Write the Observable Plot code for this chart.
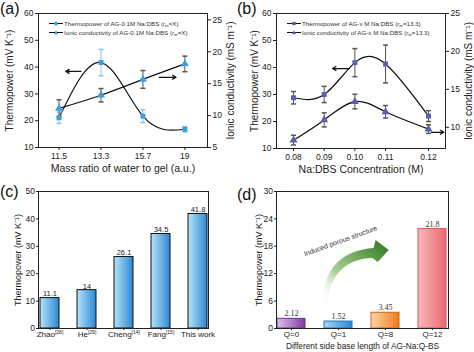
<!DOCTYPE html>
<html><head><meta charset="utf-8">
<script src="https://cdn.jsdelivr.net/npm/d3@7"></script>
<script src="https://cdn.jsdelivr.net/npm/@observablehq/plot@0.6"></script>
<style>
body{margin:0;background:#fff;}
#root{position:relative;width:474px;height:352px;overflow:hidden;font-family:"Liberation Sans",Arial,sans-serif;background:#fff}
.panel{position:absolute}
.tag{position:absolute;font-size:16px;line-height:16px;color:#111}
.leg{position:absolute;font-size:6.2px;color:#333;white-space:nowrap;line-height:9px}
.leg svg{vertical-align:middle;margin-right:1px}
.leg sub{font-size:4.3px;vertical-align:-1px}
</style></head><body>
<svg width="0" height="0" style="position:absolute">
<defs>
<linearGradient id="gradC" x1="0" y1="0" x2="1" y2="0"><stop offset="0" stop-color="#b6e4f8"/><stop offset="1" stop-color="#2b88d6"/></linearGradient>
<linearGradient id="gradD0" x1="0" y1="0" x2="1" y2="0"><stop offset="0" stop-color="#e2bfe9"/><stop offset="1" stop-color="#7a3da3"/></linearGradient>
<linearGradient id="gradD1" x1="0" y1="0" x2="1" y2="0"><stop offset="0" stop-color="#a3dcf6"/><stop offset="1" stop-color="#2a86d6"/></linearGradient>
<linearGradient id="gradD2" x1="0" y1="0" x2="1" y2="0"><stop offset="0" stop-color="#ffd6aa"/><stop offset="1" stop-color="#f07a1e"/></linearGradient>
<linearGradient id="gradD3" x1="0" y1="0" x2="1" y2="0"><stop offset="0" stop-color="#f8b8ba"/><stop offset="1" stop-color="#ee6870"/></linearGradient>
<linearGradient id="gradArrow" x1="0" y1="1" x2="1" y2="0"><stop offset="0" stop-color="#ffffff" stop-opacity="0"/><stop offset="0.35" stop-color="#a9cf93"/><stop offset="0.75" stop-color="#5a9a45"/><stop offset="1" stop-color="#2f7326"/></linearGradient>
</defs></svg>
<div id="root"></div>
<script>
// ---------- data ----------
const aCats = ["11.5", "13.3", "15.7", "19"];
const aThermo = [21.1, 41.7, 21.7, 16.8];
const aThermoErr = [2.1, 4.9, 2.4, 1.0];
const aIonic = [11.13, 13.19, 15.67, 18.10];
const aIonicErr = [1.34, 1.05, 1.39, 1.22];
const aLegend = ["Thermopower of AG-0.1M Na:DBS", "Ionic conductivity of AG-0.1M Na:DBS"];
const aLegendR = "X";

const bConc = [0.08, 0.09, 0.10, 0.11, 0.12];
const bThermo = [28.8, 30.0, 41.8, 41.3, 22.0];
const bThermoErr = [2.3, 3.0, 5.2, 7.0, 2.0];
const bIonic = [8.30, 10.97, 13.39, 12.04, 9.76];
const bIonicErr = [0.64, 0.93, 0.96, 0.82, 0.57];
const bLegend = ["Thermopower of AG-x M Na:DBS", "Ionic conductivity of AG-x M Na:DBS"];
const bLegendR = "13.3";

const cNames = ["Zhao", "He", "Cheng", "Fang", "This work"];
const cRefs = ["[28]", "[29]", "[14]", "[15]", ""];
const cValues = [11.1, 14, 26.1, 34.5, 41.8];

const dNames = ["Q=0", "Q=1", "Q=8", "Q=12"];
const dValues = [2.12, 1.52, 3.45, 21.8];
const dLabels = ["2.12", "1.52", "3.45", "21.8"];
const dFills = ["url(#gradD0)", "url(#gradD1)", "url(#gradD2)", "url(#gradD3)"];
const dStrokes = ["#6a3590", "#2c6fb0", "#c8641c", "#d0585e"];

// ---------- helpers ----------
const FONT = '"Liberation Sans", Arial, sans-serif';
const root = document.getElementById("root");
const capSym = {draw(ctx, size) { const w = Math.sqrt(size / Math.PI); ctx.moveTo(-w, 0); ctx.lineTo(w, 0); }};
function place(el, left, top) {
  const d = document.createElement("div");
  d.className = "panel"; d.style.left = left + "px"; d.style.top = top + "px";
  d.appendChild(el); root.appendChild(d);
}
function tag(t, left, top) {
  const d = document.createElement("div"); d.className = "tag";
  d.style.left = left + "px"; d.style.top = top + "px"; d.textContent = t; root.appendChild(d);
}
function legend(labels, r, color, left, top) {
  const syms = ["square", "triangle"];
  labels.forEach((lab, i) => {
    const d = document.createElement("div"); d.className = "leg";
    d.style.left = left + "px"; d.style.top = (top + i * 9) + "px";
    const mk = syms[i] === "square"
      ? `<rect x="5.3" y="1.8" width="3.4" height="3.4" fill="${color}"/>`
      : `<path d="M7,1.2 L9,5.2 L5,5.2 Z" fill="${color}"/>`;
    d.innerHTML = `<svg width="14" height="7"><line x1="0" y1="3.5" x2="14" y2="3.5" stroke="#111" stroke-width="1"/>${mk}</svg>${lab} (<i>r</i><sub>m</sub>=${r})`;
    root.appendChild(d);
  });
}
const styleBase = {fontFamily: FONT, fontSize: "8.5px", color: "#222", background: "transparent", overflow: "visible"};
const vTitle = (t, anchor, dx, fs) => Plot.text([t], {text: d => d, frameAnchor: anchor, dx, rotate: -90, fontSize: fs, textAnchor: "middle", lineAnchor: "middle"});
const xTitle = (t, dy, fs) => Plot.text([t], {text: d => d, frameAnchor: "bottom", dy, fontSize: fs, textAnchor: "middle", lineAnchor: "middle"});

// ---------- panel (a) ----------
const aL = [10, 60], aR = [5, 26];
const aToL = r => aL[0] + (r - aR[0]) * (aL[1] - aL[0]) / (aR[1] - aR[0]);
const aToR = l => aR[0] + (l - aL[0]) * (aR[1] - aR[0]) / (aL[1] - aL[0]);
const aRows = aCats.map((c, i) => ({i, t: aThermo[i], tLo: aThermo[i] - aThermoErr[i], tHi: aThermo[i] + aThermoErr[i],
  k: aToL(aIonic[i]), kLo: aToL(aIonic[i] - aIonicErr[i]), kHi: aToL(aIonic[i] + aIonicErr[i])}));
const aArrows = [{x1: 0.52, x2: 0.16, y: 38.4}, {x1: 2.39, x2: 2.79, y: 36.2}];
const aBlue = "#3d9ddd", aErrBlue = "#86c7ef", errGray = "#555";
const plotA = Plot.plot({
  width: 237, height: 176, marginLeft: 38, marginRight: 30, marginTop: 13, marginBottom: 29,
  style: styleBase,
  x: {domain: [-0.49, 3.54]},
  y: {domain: aL},
  marks: [
    Plot.frame({stroke: "#222"}),
    Plot.axisX({ticks: aCats.map((c, i) => i), tickFormat: i => aCats[i], tickSize: 3, tickPadding: 2, label: null}),
    Plot.axisY({ticks: [10, 20, 30, 40, 50, 60], anchor: "left", tickSize: 3, tickPadding: 2, label: null}),
    Plot.axisY({ticks: [5, 10, 15, 20, 25].map(aToL), anchor: "right", tickFormat: v => Math.round(aToR(v)), tickSize: 3, tickPadding: 2, label: null}),
    Plot.line(aRows, {x: "i", y: "t", curve: "natural", stroke: "#111", strokeWidth: 1.2}),
    Plot.line(aRows, {x: "i", y: "k", curve: "natural", stroke: "#111", strokeWidth: 1.2}),
    Plot.ruleX(aRows, {x: "i", y1: "tLo", y2: "tHi", stroke: aErrBlue, strokeWidth: 1}),
    Plot.dot(aRows, {x: "i", y: "tLo", symbol: capSym, r: 2.5, stroke: aErrBlue, fill: "none"}),
    Plot.dot(aRows, {x: "i", y: "tHi", symbol: capSym, r: 2.5, stroke: aErrBlue, fill: "none"}),
    Plot.ruleX(aRows, {x: "i", y1: "kLo", y2: "kHi", stroke: errGray, strokeWidth: 1}),
    Plot.dot(aRows, {x: "i", y: "kLo", symbol: capSym, r: 2.5, stroke: errGray, fill: "none"}),
    Plot.dot(aRows, {x: "i", y: "kHi", symbol: capSym, r: 2.5, stroke: errGray, fill: "none"}),
    Plot.dot(aRows, {x: "i", y: "t", symbol: "square", r: 2.8, fill: aBlue}),
    Plot.dot(aRows, {x: "i", y: "k", symbol: "triangle", r: 3, fill: aBlue}),
    Plot.arrow(aArrows, {x1: "x1", x2: "x2", y1: "y", y2: "y", stroke: "#111", strokeWidth: 1.2, headLength: 5}),
    vTitle("Thermopower (mV K⁻¹)", "left", -29, 10),
    vTitle("Ionic conductivity (mS m⁻¹)", "right", 23, 10),
    xTitle("Mass ratio of water to gel (a.u.)", 21, 10.5)
  ]
});
place(plotA, 0, 0);

// ---------- panel (b) ----------
const bL = [10, 60], bR = [7.2, 25];
const bToL = r => bL[0] + (r - bR[0]) * (bL[1] - bL[0]) / (bR[1] - bR[0]);
const bToR = l => bR[0] + (l - bL[0]) * (bR[1] - bR[0]) / (bL[1] - bL[0]);
const bX = v => v <= 0.11 ? v : 0.11 + (v - 0.11) * 1.4;   // axis is stretched after 0.11 in the original
const bDisp = bConc.map(bX);
const bRows = bConc.map((c, i) => ({x: bDisp[i], t: bThermo[i], tLo: bThermo[i] - bThermoErr[i], tHi: bThermo[i] + bThermoErr[i],
  k: bToL(bIonic[i]), kLo: bToL(bIonic[i] - bIonicErr[i]), kHi: bToL(bIonic[i] + bIonicErr[i])}));
const bArrows = [{x1: 0.0982, x2: 0.0927, y: 39.6}, {x1: 0.1250, x2: 0.1290, y: 16.0}];
const bBlue = "#5b5fae";
const plotB = Plot.plot({
  width: 237, height: 176, marginLeft: 39, marginRight: 29, marginTop: 13, marginBottom: 28,
  style: styleBase,
  x: {domain: [0.07446, 0.12954]},
  y: {domain: bL},
  marks: [
    Plot.frame({stroke: "#222"}),
    Plot.axisX({ticks: bDisp, tickFormat: v => bConc[d3.minIndex(bDisp, p => Math.abs(p - v))].toFixed(2), tickSize: 3, tickPadding: 2, label: null}),
    Plot.axisY({ticks: [10, 20, 30, 40, 50, 60], anchor: "left", tickSize: 3, tickPadding: 2, label: null}),
    Plot.axisY({ticks: [10, 15, 20, 25].map(bToL), anchor: "right", tickFormat: v => Math.round(bToR(v)), tickSize: 3, tickPadding: 2, label: null}),
    Plot.line(bRows, {x: "x", y: "t", curve: "natural", stroke: "#111", strokeWidth: 1.2}),
    Plot.line(bRows, {x: "x", y: "k", curve: "natural", stroke: "#111", strokeWidth: 1.2}),
    Plot.ruleX(bRows, {x: "x", y1: "tLo", y2: "tHi", stroke: errGray, strokeWidth: 1}),
    Plot.dot(bRows, {x: "x", y: "tLo", symbol: capSym, r: 2.5, stroke: errGray, fill: "none"}),
    Plot.dot(bRows, {x: "x", y: "tHi", symbol: capSym, r: 2.5, stroke: errGray, fill: "none"}),
    Plot.ruleX(bRows, {x: "x", y1: "kLo", y2: "kHi", stroke: errGray, strokeWidth: 1}),
    Plot.dot(bRows, {x: "x", y: "kLo", symbol: capSym, r: 2.5, stroke: errGray, fill: "none"}),
    Plot.dot(bRows, {x: "x", y: "kHi", symbol: capSym, r: 2.5, stroke: errGray, fill: "none"}),
    Plot.dot(bRows, {x: "x", y: "t", symbol: "square", r: 2.8, fill: bBlue}),
    Plot.dot(bRows, {x: "x", y: "k", symbol: "triangle", r: 3, fill: bBlue}),
    Plot.arrow(bArrows, {x1: "x1", x2: "x2", y1: "y", y2: "y", stroke: "#111", strokeWidth: 1.2, headLength: 5}),
    vTitle("Thermopower (mV K⁻¹)", "left", -22, 10),
    vTitle("Ionic conductivity (mS m⁻¹)", "right", 23, 10),
    xTitle("Na:DBS Concentration (M)", 21, 10.5)
  ]
});
place(plotB, 237, 0);

// ---------- panel (c) ----------
const cRows = cNames.map((n, i) => ({n, v: cValues[i]}));
const plotC = Plot.plot({
  width: 237, height: 176, marginLeft: 38, marginRight: 29, marginTop: 15, marginBottom: 24,
  style: styleBase,
  x: {domain: cNames, paddingInner: 0.5, paddingOuter: 0, align: 0.5},
  y: {domain: [0, 50]},
  marks: [
    Plot.barY(cRows, {x: "n", y: "v", fill: "url(#gradC)", stroke: "#111", strokeWidth: 1}),
    Plot.text(cRows, {x: "n", y: "v", text: d => String(d.v), dy: -4, fontSize: 7.5, fill: "#222"}),
    Plot.frame({stroke: "#222"}),
    Plot.axisX({tickSize: 2, tickPadding: 1, label: null, fontSize: 8}),
    Plot.axisY({ticks: [0, 10, 20, 30, 40, 50], tickSize: 2, tickPadding: 1.5, label: null}),
    vTitle("Thermopower (mV K⁻¹)", "left", -20, 9)
  ]
});
d3.select(plotC).selectAll('g[aria-label="x-axis tick label"] text').each(function() {
  const i = cNames.indexOf(this.textContent);
  if (i >= 0 && cRefs[i]) d3.select(this).append("tspan").attr("dy", -3).attr("font-size", 5).text(cRefs[i]);
});
place(plotC, 0, 176);

// ---------- panel (d) ----------
const dRows = dNames.map((n, i) => ({n, v: dValues[i], lab: dLabels[i], f: dFills[i], s: dStrokes[i]}));
const dM = {l: 39, r: 26, t: 15, b: 24};
const plotD = Plot.plot({
  width: 237, height: 176, marginLeft: dM.l, marginRight: dM.r, marginTop: dM.t, marginBottom: dM.b,
  style: styleBase,
  color: {type: "identity"},
  x: {domain: dNames, paddingInner: 0.4, paddingOuter: 0, align: 0.5},
  y: {domain: [0, 30]},
  marks: [
    Plot.barY(dRows, {x: "n", y: "v", fill: "f", stroke: "s", strokeWidth: 1}),
    Plot.text(dRows, {x: "n", y: "v", text: "lab", dy: -5, fontSize: 8, fontFamily: '"Liberation Serif", "Times New Roman", serif', fill: "#333"}),
    Plot.frame({stroke: "#222"}),
    Plot.axisX({tickSize: 2, tickPadding: 1, label: null, fontSize: 8}),
    Plot.axisY({ticks: [0, 6, 12, 18, 24, 30], tickSize: 2, tickPadding: 1.5, label: null}),
    vTitle("Thermopower (mV K⁻¹)", "left", -17, 9),
    xTitle("Different side base length of AG-Na:Q-BS", 17.5, 8.3)
  ]
});
{
  const fw = 237 - dM.l - dM.r, fh = 176 - dM.t - dM.b;
  const P = (fx, fy) => `${(dM.l + fx * fw).toFixed(1)},${(dM.t + fy * fh).toFixed(1)}`;
  const path = `M${P(0.275, 0.82)} C${P(0.27, 0.55)} ${P(0.40, 0.43)} ${P(0.567, 0.416)} L${P(0.579, 0.358)} L${P(0.655, 0.431)} L${P(0.591, 0.518)} L${P(0.561, 0.489)} C${P(0.42, 0.49)} ${P(0.31, 0.60)} ${P(0.30, 0.82)} Z`;
  const svg = d3.select(plotD);
  svg.append("path").attr("d", path).attr("fill", "url(#gradArrow)");
  const cx = dM.l + 0.38 * fw, cy = dM.t + 0.38 * fh;
  svg.append("text").attr("transform", `translate(${cx},${cy}) rotate(-20)`).attr("text-anchor", "middle")
    .attr("font-size", 7).attr("fill", "#333").attr("font-family", FONT).text("Induced porous structure");
}
place(plotD, 237, 176);

// ---------- tags & legends ----------
tag("(a)", 0, 1); tag("(b)", 237, 1); tag("(c)", 0, 184); tag("(d)", 237, 187);
legend(aLegend, aLegendR, aBlue, 49, 18.5);
legend(bLegend, bLegendR, bBlue, 287, 18.5);
</script></body></html>
